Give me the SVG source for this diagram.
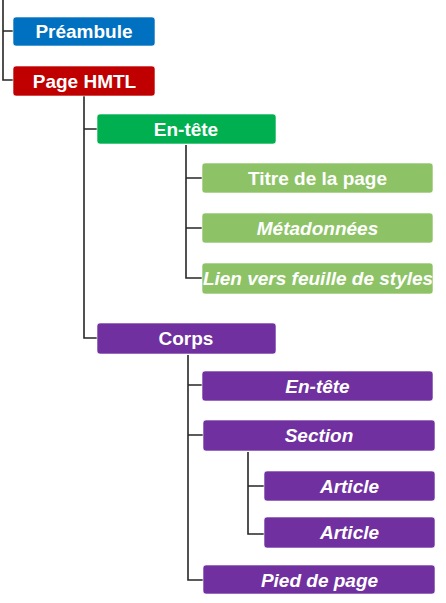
<svg xmlns="http://www.w3.org/2000/svg" width="446" height="603" viewBox="0 0 446 603">
<style>
.box{stroke:#ffffff;stroke-opacity:0.6;stroke-width:1}
.t{font-family:"Liberation Sans",Arial,sans-serif;font-weight:bold;font-size:19px;fill:#ffffff;text-anchor:middle}
.i{font-style:italic}
.c{fill:none;stroke:#262626;stroke-width:1.6}
</style>
<rect width="446" height="603" fill="#ffffff"/>
<g id="connectors">
<path class="c" d="M3,0 V80 H13 M3,31 H13"/>
<path class="c" d="M84,96 V338 H97 M84,129 H97"/>
<path class="c" d="M186,145 V278 H202 M186,178 H202 M186,228 H202"/>
<path class="c" d="M188,355 V580 H203 M188,385 H202 M188,435 H203"/>
<path class="c" d="M248,452 V534 H264 M248,486 H264"/>
</g>
<g id="preambule"><rect class="box" x="13" y="17" width="142" height="29" rx="3" fill="#0070C0"/><text class="t" x="84" y="38">Préambule</text></g>
<g id="page-hmtl"><rect class="box" x="13" y="66" width="142" height="30" rx="3" fill="#C00000"/><text class="t" x="84.5" y="87.5">Page HMTL</text></g>
<g id="entete"><rect class="box" x="97" y="114" width="179" height="30" rx="3" fill="#00B050"/><text class="t" x="186" y="135.5">En-tête</text></g>
<g id="titre"><rect class="box" x="202" y="163" width="231" height="30" rx="3" fill="#8DC366"/><text class="t" x="317.5" y="184.5">Titre de la page</text></g>
<g id="metadonnees"><rect class="box" x="202" y="213" width="231" height="30" rx="3" fill="#8DC366"/><text class="t i" x="317.5" y="234.5">Métadonnées</text></g>
<g id="lien"><rect class="box" x="202" y="263" width="231" height="31" rx="3" fill="#8DC366"/><text class="t i" x="318" y="284.5">Lien vers feuille de styles</text></g>
<g id="corps"><rect class="box" x="97" y="323" width="179" height="31" rx="3" fill="#7030A0"/><text class="t" x="186" y="344.5">Corps</text></g>
<g id="entete-corps"><rect class="box" x="202" y="371" width="231" height="30" rx="3" fill="#7030A0"/><text class="t i" x="317.5" y="392.5">En-tête</text></g>
<g id="section"><rect class="box" x="203" y="420" width="232" height="31" rx="3" fill="#7030A0"/><text class="t i" x="319" y="441.5">Section</text></g>
<g id="article1"><rect class="box" x="264" y="471" width="171" height="30" rx="3" fill="#7030A0"/><text class="t i" x="349.5" y="492.5">Article</text></g>
<g id="article2"><rect class="box" x="264" y="517" width="171" height="31" rx="3" fill="#7030A0"/><text class="t i" x="349.5" y="539">Article</text></g>
<g id="pied"><rect class="box" x="203" y="565" width="232" height="29" rx="3" fill="#7030A0"/><text class="t i" x="319.5" y="586.5">Pied de page</text></g>
</svg>
